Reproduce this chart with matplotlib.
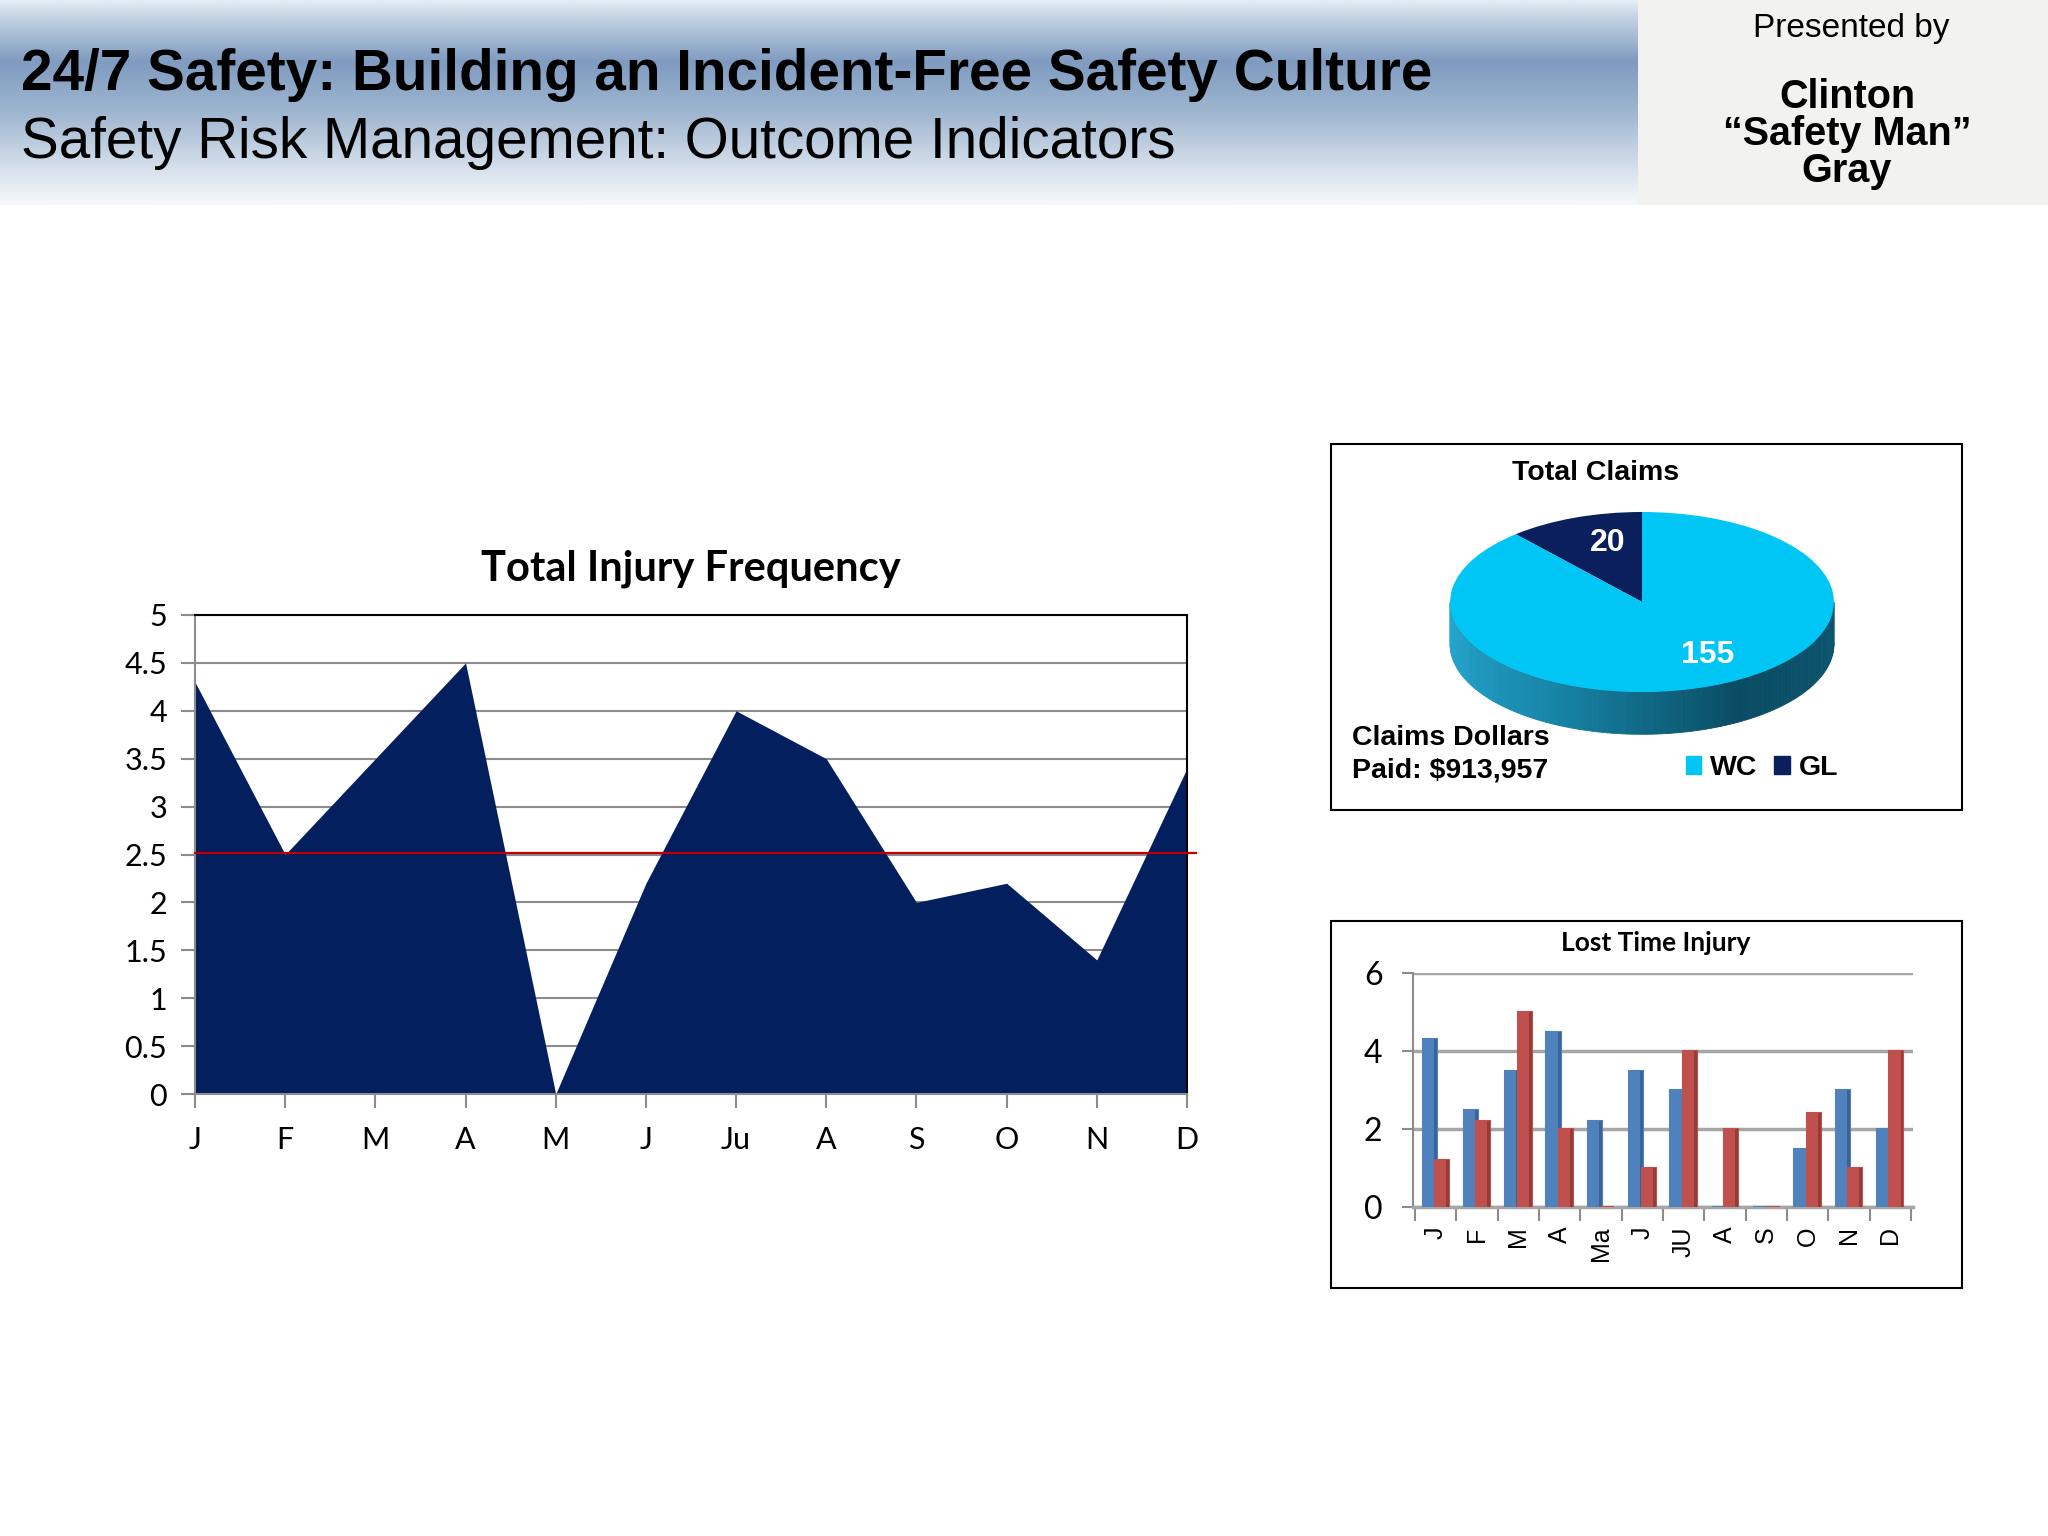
import numpy as np
import matplotlib
matplotlib.use("Agg")
import matplotlib.pyplot as plt
from matplotlib.patches import Rectangle, Patch
from matplotlib.colors import LinearSegmentedColormap

# ---- data ----
months_freq = ["J", "F", "M", "A", "M", "J", "Ju", "A", "S", "O", "N", "D"]
injury_freq = [4.3, 2.5, 3.5, 4.5, 0.0, 2.2, 4.0, 3.5, 2.0, 2.2, 1.4, 3.4]
freq_target = 2.52

claim_labels = ["GL", "WC"]
claim_counts = [20, 155]
claims_paid = "$913,957"

months_lti = ["J", "F", "M", "A", "Ma", "J", "JU", "A", "S", "O", "N", "D"]
lti_blue = [4.3, 2.5, 3.5, 4.5, 2.2, 3.5, 3.0, 0.0, 0.0, 1.5, 3.0, 2.0]
lti_red = [1.2, 2.2, 5.0, 2.0, 0.0, 1.0, 4.0, 2.0, 0.0, 2.4, 1.0, 4.0]

SANS = ["Liberation Sans", "DejaVu Sans"]
NARROW = ["Liberation Sans Narrow", "Liberation Sans", "DejaVu Sans"]
CAL = ["Lato", "DejaVu Sans"]

fig = plt.figure(figsize=(20.48, 15.36), dpi=100)
fig.patch.set_facecolor("white")

# ---- header band ----
hdr = fig.add_axes([0, 1 - 205 / 1536, 1638 / 2048, 205 / 1536])
hdr_cmap = LinearSegmentedColormap.from_list(
    "hdr", [(0.0, "#e6edf4"), (0.08, "#c4d3e3"), (0.3, "#7f9bc0"),
            (0.55, "#9fb6d0"), (0.85, "#dbe4ee"), (1.0, "#f6f8fb")])
hdr.imshow(np.linspace(0, 1, 200).reshape(-1, 1), aspect="auto", cmap=hdr_cmap,
           extent=[0, 1, 1, 0])
hdr.axis("off")

side = fig.add_axes([1638 / 2048, 1 - 205 / 1536, 410 / 2048, 205 / 1536])
side.set_facecolor("#f2f3f0")
side.set_xticks([])
side.set_yticks([])
for s in side.spines.values():
    s.set_visible(False)

fig.text(21 / 2048, 1 - 90 / 1536, "24/7 Safety: Building an Incident-Free Safety Culture",
         family=SANS, fontsize=40.8, fontweight="bold", va="baseline", ha="left")
fig.text(21 / 2048, 1 - 158 / 1536, "Safety Risk Management: Outcome Indicators",
         family=SANS, fontsize=40.8, va="baseline", ha="left")
fig.text(1851 / 2048, 1 - 37 / 1536, "Presented by", family=SANS, fontsize=24,
         va="baseline", ha="center")
for txt, yb in [("Clinton", 108), ("\u201cSafety Man\u201d", 145), ("Gray", 182)]:
    fig.text(1847 / 2048, 1 - yb / 1536, txt, family=SANS, fontsize=28.5,
             fontweight="bold", va="baseline", ha="center")

# ---- Total Injury Frequency ----
ax = fig.add_axes([195 / 2048, 1 - 1094 / 1536, 992 / 2048, 479 / 1536])
x = np.arange(len(injury_freq))
ax.fill_between(x, injury_freq, 0, color="#041f5e", linewidth=0, zorder=2)
ax.plot([x[0], x[-1] + 0.1], [freq_target, freq_target], color="#c00000",
        linewidth=1.6, zorder=3, clip_on=False)
ax.set_xlim(x[0], x[-1])
ax.set_ylim(0, 5)
ax.set_yticks(np.arange(0, 5.01, 0.5))
ax.set_yticklabels(["0", "0.5", "1", "1.5", "2", "2.5", "3", "3.5", "4", "4.5", "5"])
ax.set_xticks(x)
ax.set_xticklabels(months_freq)
ax.grid(axis="y", color="#8c8c8c", linewidth=1.5, zorder=1)
ax.set_axisbelow(True)
for lab in ax.get_xticklabels() + ax.get_yticklabels():
    lab.set_family(CAL)
    lab.set_fontsize(22)
ax.tick_params(axis="both", direction="out", color="#8c8c8c", width=1.5, length=10)
ax.tick_params(axis="x", pad=13)
ax.tick_params(axis="y", pad=10)
ax.spines["left"].set_color("#8c8c8c")
ax.spines["bottom"].set_color("#8c8c8c")
ax.spines["top"].set_color("black")
ax.spines["right"].set_color("black")
for s in ax.spines.values():
    s.set_linewidth(1.5)
ax.set_title("Total Injury Frequency", family=CAL, fontsize=30, fontweight="bold", pad=25)

# ---- Total Claims box ----
fig.patches.append(Rectangle((1331 / 2048, 1 - 810 / 1536), 631 / 2048, 366 / 1536,
                             transform=fig.transFigure, fill=False, edgecolor="black",
                             linewidth=1.5))
fig.text(1596 / 2048, 1 - 473 / 1536, "Total Claims", family=NARROW, fontsize=20.5,
         fontweight="bold", ha="center", va="center")

pax = fig.add_axes([(1642 - 201.5) / 2048, 1 - 737 / 1536, 403 / 2048, 229.5 / 1536])
depth = 0.47
# side of the 3D pie
t = np.linspace(np.pi, 2 * np.pi, 121)
side_cmap = LinearSegmentedColormap.from_list("side", ["#27aad3", "#1787aa", "#0a4c63", "#0c5670"])
for i in range(len(t) - 1):
    xs = [np.cos(t[i]), np.cos(t[i + 1]), np.cos(t[i + 1]), np.cos(t[i])]
    ys = [np.sin(t[i]), np.sin(t[i + 1]), np.sin(t[i + 1]) - depth, np.sin(t[i]) - depth]
    pax.fill(xs, ys, color=side_cmap(i / (len(t) - 2)), linewidth=0.6,
             edgecolor=side_cmap(i / (len(t) - 2)), zorder=1)
wedges, _ = pax.pie(claim_counts, colors=["#0a1f5c", "#00c6f6"], startangle=90,
                    counterclock=True, radius=1.0,
                    wedgeprops=dict(linewidth=0, zorder=2))
for w in wedges:
    w.set_zorder(2)
pax.set_aspect("auto")
pax.set_xlim(-1.05, 1.05)
pax.set_ylim(-1 - depth - 0.03, 1.05)
pax.axis("off")
pax.text(-0.18, 0.66, str(claim_counts[0]), color="white", family=NARROW,
         fontsize=23, fontweight="bold", ha="center", va="center", zorder=5)
pax.text(0.34, -0.59, str(claim_counts[1]), color="white", family=NARROW,
         fontsize=23, fontweight="bold", ha="center", va="center", zorder=5)

fig.text(1352 / 2048, 1 - 738 / 1536, "Claims Dollars", family=NARROW, fontsize=20.5,
         fontweight="bold", ha="left", va="center")
fig.text(1352 / 2048, 1 - 771 / 1536, "Paid: " + claims_paid, family=NARROW,
         fontsize=20.5, fontweight="bold", ha="left", va="center")
fig.legend(handles=[Patch(color="#00c6f6", label=claim_labels[1]),
                    Patch(color="#0a1f5c", label=claim_labels[0])],
           loc="center", bbox_to_anchor=(1762 / 2048, 1 - 768 / 1536), ncol=2,
           frameon=False, handlelength=0.55, handleheight=0.6, handletextpad=0.3,
           columnspacing=0.6, prop=dict(family=NARROW, size=20.5, weight="bold"))

# ---- Lost Time Injury box ----
fig.patches.append(Rectangle((1331 / 2048, 1 - 1288 / 1536), 631 / 2048, 367 / 1536,
                             transform=fig.transFigure, fill=False, edgecolor="black",
                             linewidth=1.5))
fig.text(1656 / 2048, 1 - 943 / 1536, "Lost Time Injury", family=CAL, fontsize=19,
         fontweight="bold", ha="center", va="center")

bax = fig.add_axes([1413 / 2048, 1 - 1207 / 1536, 500 / 2048, 234 / 1536])
bx = np.arange(len(lti_blue))
bw = 0.34
bax.bar(bx - 0.15, lti_blue, width=bw, color="#4f81bd", edgecolor="#4f81bd",
        linewidth=1.5, zorder=3)
bax.bar(bx - 0.15 + bw / 2 - 0.035, lti_blue, width=0.07, color="#3a6396",
        linewidth=0, zorder=3)
bax.bar(bx + 0.15, lti_red, width=bw, color="#c0504d", edgecolor="#c0504d",
        linewidth=1.5, zorder=4)
bax.bar(bx + 0.15 + bw / 2 - 0.035, lti_red, width=0.07, color="#953c3a",
        linewidth=0, zorder=4)
bax.set_xlim(-0.55, len(lti_blue) - 0.45)
bax.set_ylim(0, 6)
bax.set_yticks([0, 2, 4, 6])
bax.set_xticks(bx)
bax.set_xticklabels(months_lti, rotation=90, family=SANS, fontsize=18)
bax.set_xticks(np.arange(-0.5, len(lti_blue)), minor=True)
bax.tick_params(axis="x", which="major", length=0, pad=14)
bax.tick_params(axis="x", which="minor", length=10, color="#8c8c8c", width=1.5)
bax.tick_params(axis="y", length=8, color="#8c8c8c", width=1.5, pad=14)
for lab in bax.get_yticklabels():
    lab.set_family(CAL)
    lab.set_fontsize(23)
bax.grid(axis="y", color="#a6a6a6", linewidth=2.5, zorder=1)
bax.set_axisbelow(True)
bax.spines["top"].set_visible(False)
bax.spines["right"].set_visible(False)
bax.spines["left"].set_color("#8c8c8c")
bax.spines["bottom"].set_color("#a6a6a6")
bax.spines["left"].set_linewidth(1.5)
bax.spines["bottom"].set_linewidth(2.5)

fig.savefig("out.png", dpi=100, facecolor="white")
